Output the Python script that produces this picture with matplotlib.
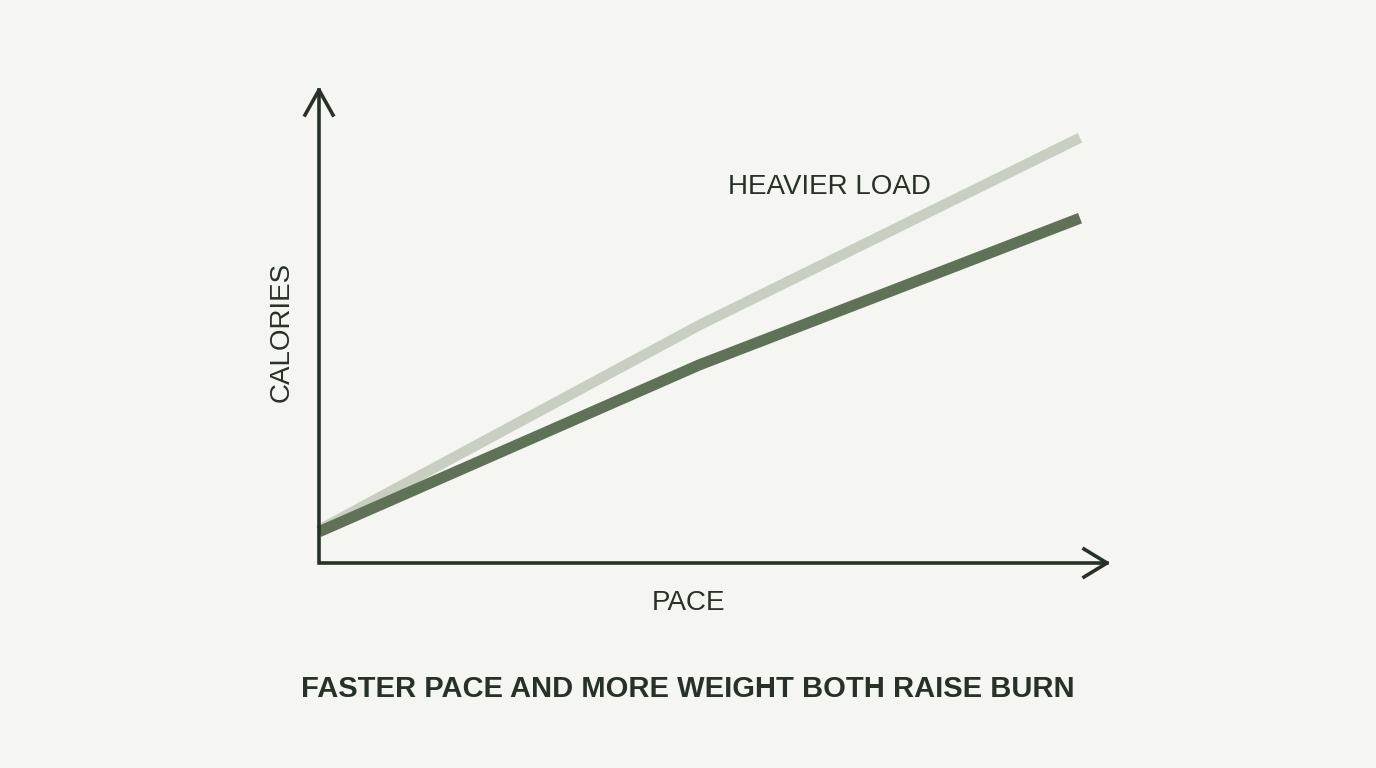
import matplotlib
matplotlib.use("Agg")
import matplotlib.pyplot as plt

# Data
pace = [0, 5, 10]
heavier_load = [7.0, 50.3, 89.9]
baseline_load = [6.6, 41.9, 72.9]
series_label = "HEAVIER LOAD"
x_label = "PACE"
y_label = "CALORIES"
title = "FASTER PACE AND MORE WEIGHT BOTH RAISE BURN"

BG = "#f5f5f1"
AXC = "#283126"
LIGHT = "#c9cec3"
DARK = "#5f7258"

W, H = 1376, 768
fig = plt.figure(figsize=(W / 100, H / 100), dpi=100, facecolor=BG)
L, R, B, T = 319, 1107, 563, 90
ax = fig.add_axes([L / W, (H - B) / H, (R - L) / W, (B - T) / H])
ax.set_facecolor(BG)
ax.set_xlim(0, (R - L) / 76.1)
ax.set_ylim(0, 100)
for s in ax.spines.values():
    s.set_visible(False)
ax.set_xticks([])
ax.set_yticks([])

ax.plot(pace, heavier_load, color=LIGHT, lw=7.5, solid_capstyle="butt", zorder=2, clip_on=False)
ax.plot(pace, baseline_load, color=DARK, lw=8, solid_capstyle="butt", zorder=3, clip_on=False)

tr = ax.transAxes
kw = dict(color=AXC, lw=2.6, transform=tr, clip_on=False, zorder=5)
ax.plot([0, 0, 1], [1, 0, 0], solid_capstyle="projecting", solid_joinstyle="miter", **kw)
ax.plot([-14 / 788, 0, 14 / 788], [1 - 25 / 473, 1, 1 - 25 / 473], solid_capstyle="projecting", **kw)
ax.plot([1 - 23 / 788, 1, 1 - 23 / 788], [14 / 473, 0, -14 / 473], solid_capstyle="projecting", **kw)

font = ["Liberation Sans", "DejaVu Sans"]
fig.text(829 / W, 1 - 187 / H, series_label, ha="center", va="center", fontsize=20,
         color=AXC, family=font)
fig.text(688 / W, 1 - 603 / H, x_label, ha="center", va="center", fontsize=20,
         color=AXC, family=font)
fig.text(282 / W, 1 - 332 / H, y_label, ha="center", va="center", fontsize=20,
         color=AXC, family=font, rotation=90)
fig.text(688 / W, 1 - 689 / H, title, ha="center", va="center", fontsize=21,
         color=AXC, family=["Liberation Sans Narrow", "Liberation Sans", "DejaVu Sans"],
         fontweight="bold")

fig.savefig("out.png", dpi=100, facecolor=BG)
